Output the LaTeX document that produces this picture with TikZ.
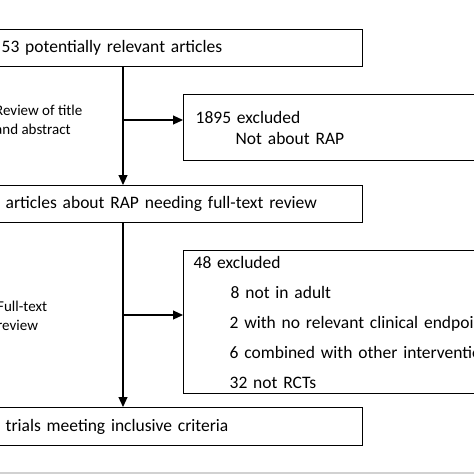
\documentclass[tikz,border=0pt]{standalone}
\usepackage{fontspec}
\setmainfont{Carlito}
\usetikzlibrary{arrows.meta}
\tikzset{
  box/.style={draw, line width=1.3pt, anchor=north west, align=left, inner ysep=3pt},
  link/.style={line width=1.1pt, -{Triangle[length=10pt,width=9pt]}},
  big/.style={font=\fontsize{17.5}{21}\selectfont},
  small/.style={font=\fontsize{15}{19}\selectfont}
}
\begin{document}
\begin{tikzpicture}[x=1pt,y=-1pt]
    \useasboundingbox (0,0) rectangle (474,474);
    \clip (0,0) rectangle (474,474);

    % Main column
    \node[box, big, minimum height=37pt, text width=350pt, inner xsep=11pt] (found) at (-10,29) {53 potentially relevant articles};
    \node[box, big, minimum height=37pt, text width=342pt, inner xsep=15pt] (fulltext) at (-10,185) {articles about RAP needing full-text review};
    \node[box, big, minimum height=38pt, text width=342pt, inner xsep=15pt] (included) at (-10,407) {trials meeting inclusive criteria};

    % Exclusion boxes
    \node[box, big, minimum height=66pt, text width=313pt, inner xsep=12pt] (excl1) at (183,94) {1895 excluded\\\hspace*{40pt}Not about RAP};
    \node[box, big, minimum height=143pt, text width=317pt, inner xsep=10pt] (excl2) at (183,250) {48 excluded\\[9pt]
        \hspace*{37pt}8 not in adult\\[9pt]
        \hspace*{36pt}2 with no relevant clinical endpoint\\[9pt]
        \hspace*{36pt}6 combined with other intervention\\[9pt]
        \hspace*{36pt}32 not RCTs};

    % Stage labels
    \node[small, align=left, anchor=west, inner sep=0pt] (stage1) at (-5,120) {Review of title\\and abstract};
    \node[small, align=left, anchor=west, inner sep=0pt] (stage2) at (-3,316) {Full-text\\review};

    % Trunk and taps
    \coordinate (trunk) at (123,0);
    \coordinate (tap1) at (123,120);
    \coordinate (tap2) at (123,315);

    % Arrows
    \draw[link] (trunk |- found.south) -- (trunk |- fulltext.north);
    \draw[link] (trunk |- fulltext.south) -- (trunk |- included.north);
    \draw[link] (tap1) -- (tap1 -| excl1.west);
    \draw[link] (tap2) -- (tap2 -| excl2.west);

    % Bottom band
    \fill[black!18] (0,472) rectangle (474,474);
\end{tikzpicture}
\end{document}
